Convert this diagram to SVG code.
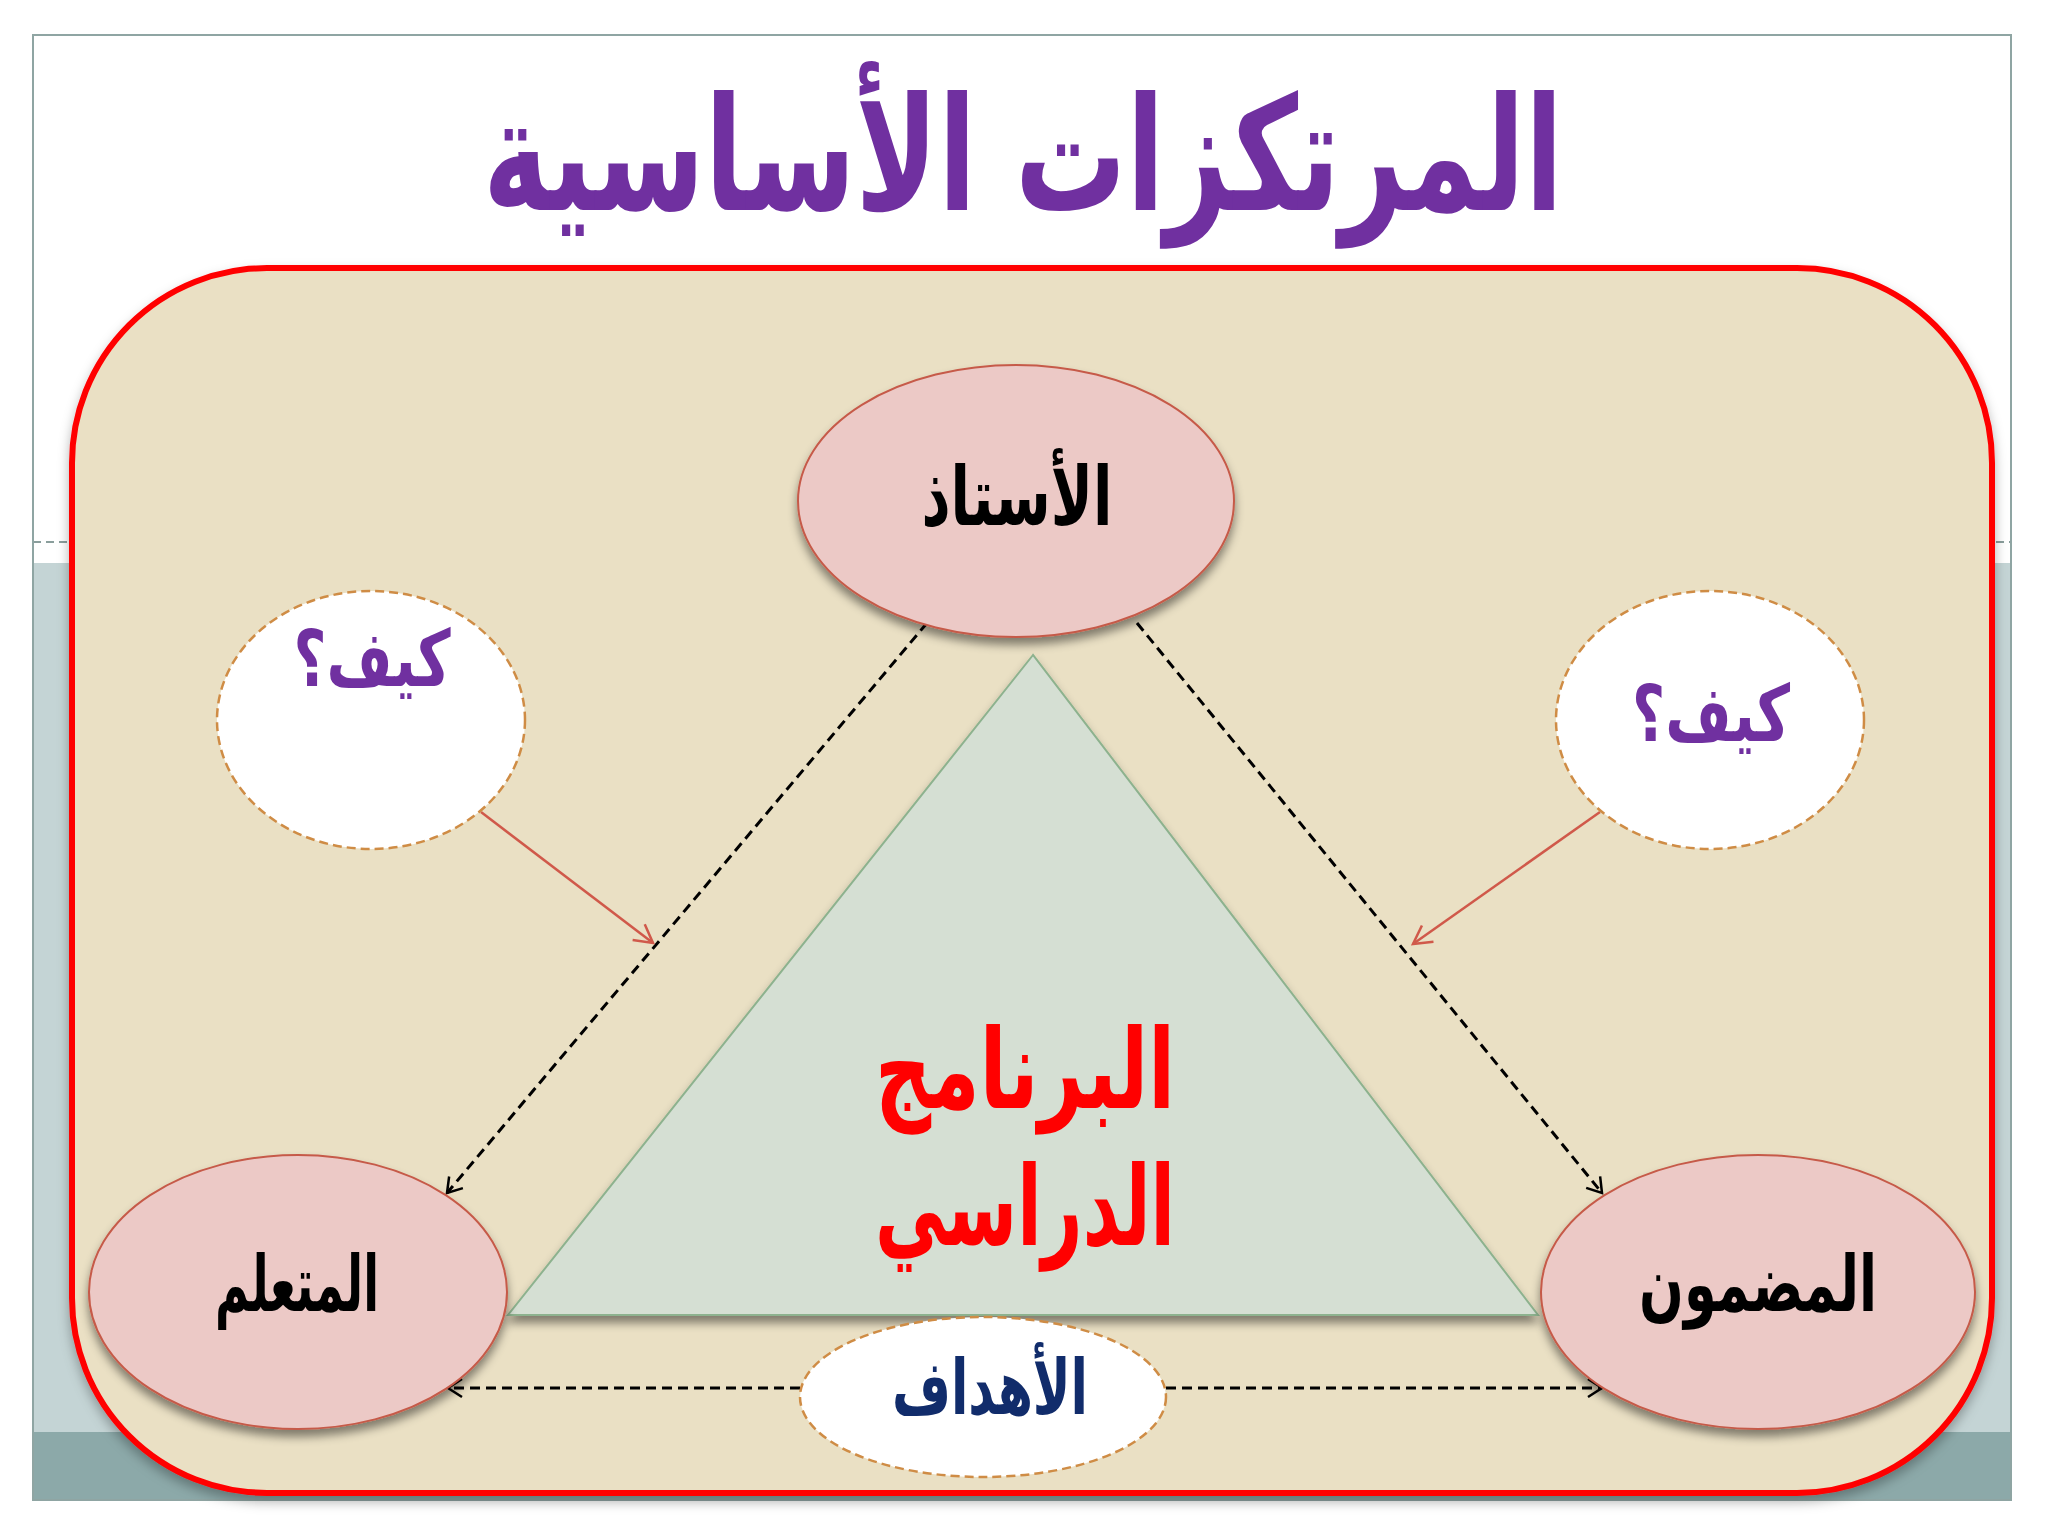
<svg xmlns="http://www.w3.org/2000/svg" width="2048" height="1536" viewBox="0 0 2048 1536">
<defs>
<style>
.node{fill:#ecc9c6;stroke:#c65a48;stroke-width:2}
.bubble{fill:#ffffff;stroke:#cf8c45;stroke-width:2.5;stroke-dasharray:9 5}
.conn{fill:none;stroke:#000;stroke-width:3;stroke-dasharray:10 6}
.red{fill:none;stroke:#d0594a;stroke-width:2.5}
.ar{font-family:'DejaVu Sans','Noto Sans',sans-serif;font-weight:bold;text-anchor:middle;direction:rtl}
</style>
<filter id="sh" x="-20%" y="-20%" width="140%" height="150%">
<feDropShadow dx="0" dy="7" stdDeviation="5" flood-color="#000" flood-opacity="0.45"/>
</filter>
<filter id="sh2" x="-10%" y="-10%" width="120%" height="120%">
<feDropShadow dx="0" dy="6" stdDeviation="6" flood-color="#000" flood-opacity="0.3"/>
</filter>
<marker id="ah" viewBox="-16 -12 20 24" markerWidth="20" markerHeight="24" refX="0" refY="0" orient="auto" markerUnits="userSpaceOnUse">
<path d="M-14,-9 L0,0 L-14,9" fill="none" stroke="#000" stroke-width="2.5"/>
</marker>
<marker id="ahr" viewBox="-20 -12 24 24" markerWidth="24" markerHeight="24" refX="0" refY="0" orient="auto" markerUnits="userSpaceOnUse">
<path d="M-18,-10 L0,0 L-18,10" fill="none" stroke="#d0594a" stroke-width="2.5"/>
</marker>
</defs>

<!-- slide background -->
<rect x="0" y="0" width="2048" height="1536" fill="#ffffff"/>
<rect x="33" y="563" width="1978" height="870" fill="#c4d4d5"/>
<rect x="33" y="1432" width="1978" height="68" fill="#8ca9a9"/>
<line x1="33" y1="542" x2="2011" y2="542" stroke="#8a9e9c" stroke-width="2" stroke-dasharray="8 5"/>
<rect x="33" y="35" width="1978" height="1465" fill="none" stroke="#8fa5a3" stroke-width="2"/>

<!-- title -->
<text class="ar" x="1023" y="210" font-size="158" fill="#7030a0" textLength="1080" lengthAdjust="spacingAndGlyphs">المرتكزات الأساسية</text>

<!-- frame -->
<g id="frame">
<rect x="72" y="268" width="1920" height="1225" rx="195" ry="195" fill="#eae0c4" stroke="#ff0000" stroke-width="6" filter="url(#sh2)"/>
</g>

<!-- triangle -->
<g id="program">
<polygon points="1033,655 508,1315 1538,1315" fill="#d5dfd3" stroke="#8db28e" stroke-width="2" filter="url(#sh)"/>
<text class="ar" x="1025" y="1108" font-size="110" fill="#ff0000" textLength="300" lengthAdjust="spacingAndGlyphs">البرنامج</text>
<text class="ar" x="1025" y="1245" font-size="110" fill="#ff0000" textLength="300" lengthAdjust="spacingAndGlyphs">الدراسي</text>
</g>

<!-- connectors -->
<g id="connectors">
<line class="conn" x1="927" y1="623" x2="447" y2="1193" marker-end="url(#ah)"/>
<line class="conn" x1="1137" y1="623" x2="1602" y2="1193" marker-end="url(#ah)"/>
<line class="conn" x1="800" y1="1388" x2="448" y2="1388" marker-end="url(#ah)"/>
<line class="conn" x1="1166" y1="1388" x2="1602" y2="1388" marker-end="url(#ah)"/>
<line class="red" x1="481" y1="812" x2="653" y2="943" marker-end="url(#ahr)"/>
<line class="red" x1="1600" y1="812" x2="1413" y2="944" marker-end="url(#ahr)"/>
</g>

<!-- nodes -->
<g id="teacher">
<ellipse class="node" cx="1016" cy="501" rx="218" ry="136" filter="url(#sh)"/>
<text class="ar" x="1017" y="525" font-size="82" fill="#000" textLength="191" lengthAdjust="spacingAndGlyphs">الأستاذ</text>
</g>
<g id="learner">
<ellipse class="node" cx="298" cy="1292" rx="209" ry="137" filter="url(#sh)"/>
<text class="ar" x="297" y="1311" font-size="78" fill="#000" textLength="164" lengthAdjust="spacingAndGlyphs">المتعلم</text>
</g>
<g id="content">
<ellipse class="node" cx="1758" cy="1292" rx="217" ry="137" filter="url(#sh)"/>
<text class="ar" x="1758" y="1311" font-size="78" fill="#000" textLength="238" lengthAdjust="spacingAndGlyphs">المضمون</text>
</g>
<g id="how-left">
<ellipse class="bubble" cx="371" cy="720" rx="154" ry="129"/>
<text class="ar" x="372" y="686" font-size="78" fill="#7030a0" textLength="157" lengthAdjust="spacingAndGlyphs">كيف؟</text>
</g>
<g id="how-right">
<ellipse class="bubble" cx="1710" cy="720" rx="154" ry="129"/>
<text class="ar" x="1711" y="741" font-size="78" fill="#7030a0" textLength="158" lengthAdjust="spacingAndGlyphs">كيف؟</text>
</g>
<g id="goals">
<ellipse class="bubble" cx="983" cy="1397" rx="183" ry="80"/>
<text class="ar" x="990" y="1414" font-size="76" fill="#112c6b" textLength="196" lengthAdjust="spacingAndGlyphs">الأهداف</text>
</g>
</svg>
